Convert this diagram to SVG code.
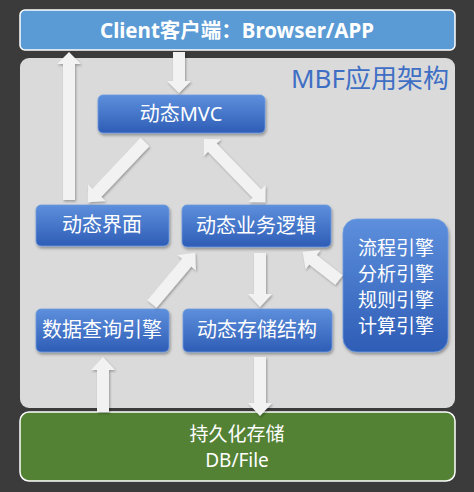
<svg xmlns="http://www.w3.org/2000/svg" width="474" height="492" viewBox="0 0 474 492">
<defs>
<linearGradient id="gb" x1="0" y1="0" x2="0" y2="1">
<stop offset="0" stop-color="#5d8fdc"/>
<stop offset="1" stop-color="#2e5db6"/>
</linearGradient>
<filter id="sh" x="-20%" y="-20%" width="140%" height="160%">
<feDropShadow dx="1" dy="2" stdDeviation="1.5" flood-color="#000" flood-opacity="0.35"/>
</filter>
<filter id="ash" x="-30%" y="-30%" width="160%" height="160%">
<feDropShadow dx="1" dy="1.5" stdDeviation="1.2" flood-color="#000" flood-opacity="0.3"/>
</filter>
</defs>
<style>
.node rect{fill:url(#gb);stroke:#6d9be0;stroke-width:0.8;filter:url(#sh)}
.t{font-family:"Noto Sans","Noto Sans CJK SC",sans-serif;fill:#fff;text-anchor:middle}
.n{font-size:20px}
.e{font-size:19px}
.arr{fill:#f2f2f2;filter:url(#ash)}
</style>
<rect width="474" height="492" fill="#3b3b3b"/>
<g id="panel">
<rect x="20" y="58" width="435" height="350" rx="9" fill="#dadada"/>
<text x="449" y="88" font-family="Noto Sans,'Noto Sans CJK SC',sans-serif" font-size="26" fill="#3f6fc4" text-anchor="end">MBF应用架构</text>
</g>
<g id="client">
<rect x="20" y="10" width="435" height="40" rx="5" fill="#5b9bd5" stroke="#fff" stroke-width="1.5"/>
<text class="t" x="237" y="38" font-size="20.5" font-weight="bold">Client客户端：Browser/APP</text>
</g>
<g id="storage">
<rect x="20" y="412" width="435" height="69" rx="9" fill="#548235" stroke="#fff" stroke-width="1.5"/>
<text class="t" x="237" y="441" font-size="19">持久化存储</text>
<text class="t" x="237" y="467" font-size="19">DB/File</text>
</g>
<g id="mvc" class="node">
<rect x="98" y="95" width="167" height="38" rx="5"/>
<text class="t n" x="181" y="121">动态MVC</text>
</g>
<g id="ui" class="node">
<rect x="36" y="205" width="133" height="41" rx="5"/>
<text class="t n" x="102" y="232">动态界面</text>
</g>
<g id="biz" class="node">
<rect x="182" y="205" width="149" height="42" rx="5"/>
<text class="t n" x="256" y="233">动态业务逻辑</text>
</g>
<g id="engines" class="node">
<rect x="343" y="219" width="105" height="133" rx="14"/>
<text class="t e" x="396" y="255">流程引擎</text>
<text class="t e" x="396" y="281">分析引擎</text>
<text class="t e" x="396" y="307">规则引擎</text>
<text class="t e" x="396" y="333">计算引擎</text>
</g>
<g id="query" class="node">
<rect x="36" y="309" width="133" height="43" rx="5"/>
<text class="t n" x="102" y="337">数据查询引擎</text>
</g>
<g id="store" class="node">
<rect x="183" y="309" width="149" height="43" rx="5"/>
<text class="t n" x="257" y="337">动态存储结构</text>
</g>
<g id="connectors" class="arr">
<path transform="translate(69,200) rotate(-90)" d="M0,-6 L136,-6 L136,-12 L148,0 L136,12 L136,6 L0,6 Z"/>
<path transform="translate(179,52) rotate(90)" d="M0,-6 L29,-6 L29,-12 L41,0 L29,12 L29,6 L0,6 Z"/>
<path transform="translate(145,142) rotate(133.5)" d="M0,-6 L70,-6 L70,-12 L83,0 L70,12 L70,6 L0,6 Z"/>
<path transform="translate(204,139) rotate(45.9)" d="M0,0 L12,-12 L12,-6 L76,-6 L76,-12 L88,0 L76,12 L76,6 L12,6 L12,12 Z"/>
<path transform="translate(152,304) rotate(-49.9)" d="M0,-6 L54,-6 L54,-12 L67,0 L54,12 L54,6 L0,6 Z"/>
<path transform="translate(260,253) rotate(90)" d="M0,-6 L41,-6 L41,-12 L54,0 L41,12 L41,6 L0,6 Z"/>
<path transform="translate(339,280) rotate(-142.1)" d="M0,-6 L33,-6 L33,-12 L46,0 L33,12 L33,6 L0,6 Z"/>
<path transform="translate(103,412) rotate(-90)" d="M0,-6 L42,-6 L42,-12 L55,0 L42,12 L42,6 L0,6 Z"/>
<path transform="translate(260,357) rotate(90)" d="M0,-6 L46,-6 L46,-12 L59,0 L46,12 L46,6 L0,6 Z"/>
</g>
</svg>
